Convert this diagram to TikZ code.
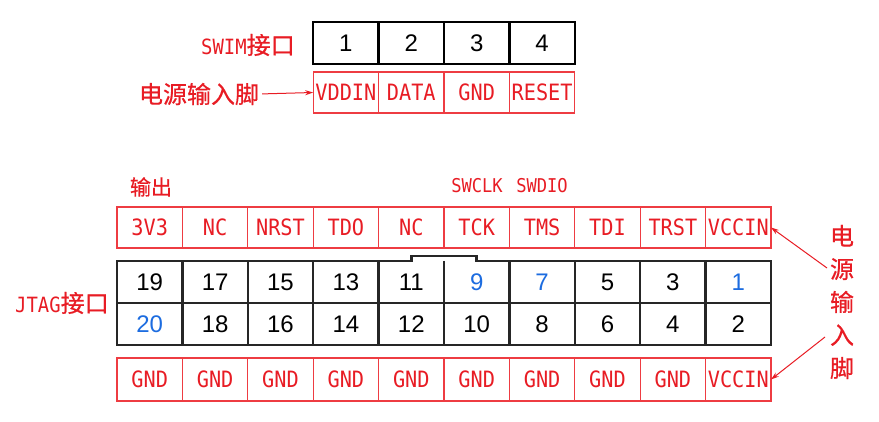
\documentclass[tikz,border=0pt]{standalone}
\usepackage{fontspec}
\newfontfamily\cjk[FakeBold=0.6]{Noto Sans CJK SC}
\newfontfamily\mono[FakeStretch=0.9]{DejaVu Sans Mono}
\newfontfamily\num{Liberation Sans}
\usetikzlibrary{arrows.meta,calc}
\definecolor{lred}{RGB}{232,28,36}
\definecolor{cellred}{RGB}{238,60,66}
\definecolor{pinblue}{RGB}{28,108,224}
\begin{document}
\begin{tikzpicture}[x=1pt,y=-1pt,
  redcell/.style={draw=cellred, line width=1.2pt, minimum width=65.4pt, minimum height=41pt,
    inner sep=0pt, outer sep=0pt, text=lred, font=\mono\fontsize{22.5}{22.5}\selectfont},
  pincell/.style={minimum width=65.4pt, minimum height=42pt, inner sep=0pt, outer sep=0pt,
    font=\num\fontsize{24}{24}\selectfont},
  swimcell/.style={pincell, draw=black, line width=2.5pt},
  gridline/.style={draw=black!85, line width=2.5pt},
  lbl/.style={text=lred, inner sep=0pt},
  cjkfont/.style={font=\cjk\fontsize{24}{24}\selectfont},
  arr/.style={draw=lred, line width=1pt, -{Stealth[length=8pt,width=5pt]}},
]
\useasboundingbox (0,0) rectangle (879,422);
\fill[white] (0,0) rectangle (879,422);

% ---------- SWIM ----------
\foreach \i/\t in {1/1,2/2,3/3,4/4}
  \node[swimcell] (swN\i) at ({313.2+65.4*(\i-0.5)},43) {\t};
\foreach \i/\t in {1/VDDIN,2/DATA,3/GND,4/RESET}
  \node[redcell] (swL\i) at ({313.2+65.4*(\i-0.5)},92.5) {\t};

\node[lbl, cjkfont] (swimlbl) at (248,45) {{\mono\fontsize{21}{21}\selectfont SWIM}接口};
\node[lbl, cjkfont] (pwleft) at (199,94) {电源输入脚};
\draw[arr, shorten <=3pt] (pwleft.east) -- (swL1.west);

% ---------- JTAG red top row ----------
\foreach \i/\t in {1/3V3,2/NC,3/NRST,4/TDO,5/NC,6/TCK,7/TMS,8/TDI,9/TRST,10/VCCIN}
  \node[redcell] (jt\i) at ({117+65.4*(\i-0.5)},227.5) {\t};
% ---------- JTAG red bottom row ----------
\foreach \i in {1,...,9}
  \node[redcell, minimum height=43pt] (jb\i) at ({117+65.4*(\i-0.5)},379.5) {GND};
\node[redcell, minimum height=43pt] (jb10) at ({117+65.4*9.5},379.5) {VCCIN};

% ---------- JTAG pins ----------
\foreach \i/\tc/\bc in {1/black/pinblue,2/black/black,3/black/black,4/black/black,5/black/black,
    6/pinblue/black,7/pinblue/black,8/black/black,9/black/black,10/pinblue/black}{
  \pgfmathtruncatemacro{\top}{21-2*\i}
  \pgfmathtruncatemacro{\bot}{22-2*\i}
  \node[pincell, text=\tc] (pt\i) at ({117+65.4*(\i-0.5)},282) {\top};
  \node[pincell, text=\bc] (pb\i) at ({117+65.4*(\i-0.5)},324) {\bot};
}

% grid with notch
\draw[gridline, line join=miter]
  (pt1.north west) -- (pt5.north) -- ([yshift=5pt]pt5.north) -- ([yshift=5pt]pt6.north)
  -- (pt6.north) -- (pt10.north east) -- (pb10.south east) -- (pb1.south west) -- cycle;
\draw[gridline] (pt1.south west) -- (pt10.south east);
\foreach \i in {1,...,9}
  \draw[gridline] (pt\i.north east) -- (pb\i.south east);

% ---------- labels ----------
\node[lbl, cjkfont] (jtaglbl) at (62,303) {{\mono\fontsize{21}{21}\selectfont JTAG}接口};
\node[lbl, font=\cjk\fontsize{21}{21}\selectfont] (outlbl) at (151,187) {输出};
\node[lbl, font=\mono\fontsize{19}{19}\selectfont] (swclk) at (477,186) {SWCLK};
\node[lbl, font=\mono\fontsize{19}{19}\selectfont] (swdio) at (542,186) {SWDIO};

\node[lbl, align=center, font=\cjk\fontsize{24}{33}\selectfont] (pwright) at (842,302)
  {电\\源\\输\\入\\脚};
\coordinate (arrT) at (827,268);
\coordinate (arrB) at (825,337);
\draw[arr] (arrT) -- (jt10.east);
\draw[arr] (arrB) -- (jb10.east);
\end{tikzpicture}
\end{document}
